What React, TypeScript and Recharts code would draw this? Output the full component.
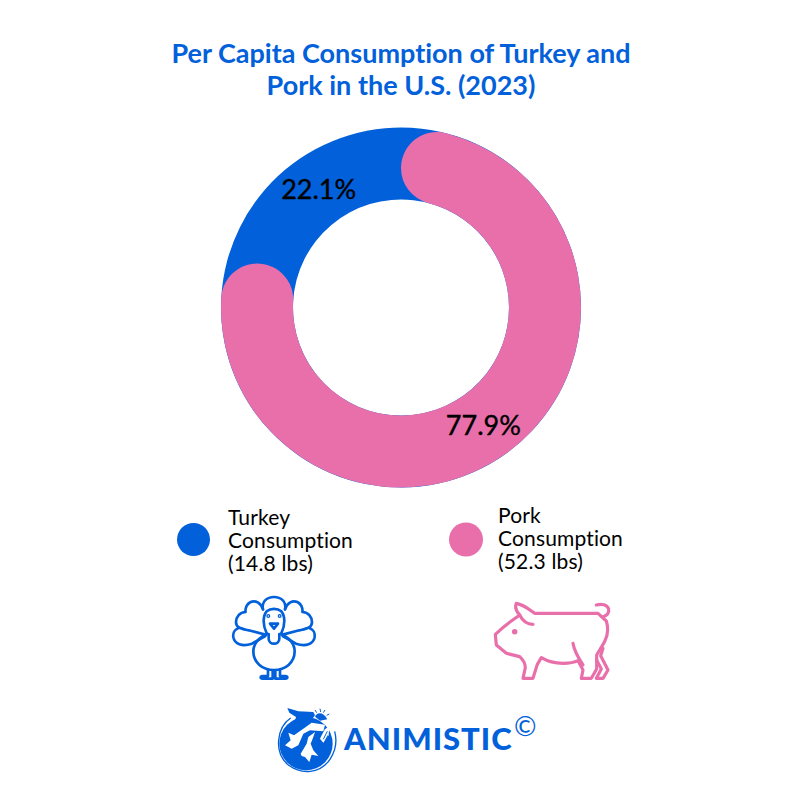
import { Cell, Pie, PieChart, Sector } from "recharts";

const names = ["Pork Consumption", "Turkey Consumption"];
const pounds = [52.3, 14.8];
const shares = [77.9, 22.1];
const colors = ["#E96FAB", "#0261DA"];

const sliceData = names.map((name, i) => ({ name, value: shares[i], lbs: pounds[i] }));
const baseData = [sliceData[1], sliceData[0]];

const BLUE = "#0261DA";
const PINK = "#E96FAB";
const CX = 401;
const CY = 307.5;
const RAD = Math.PI / 180;

// the rounded pork arc overshoots its own slice a little at both ends
function RoundedSlice(props: any) {
  return <Sector {...props} startAngle={props.startAngle + 4.9} endAngle={props.endAngle - 2.3} />;
}

function renderShare(props: any) {
  const r = (props.innerRadius + props.outerRadius) / 2;
  const x = props.cx + r * Math.cos(-props.midAngle * RAD);
  const y = props.cy + r * Math.sin(-props.midAngle * RAD);
  return (
    <text
      x={x}
      y={y + 9.5}
      textAnchor="middle"
      fill="#000"
      stroke="#000"
      strokeWidth={0.4}
      fontFamily="Lato"
      fontSize={27}
      style={{ fontVariantLigatures: "none" }}
    >
      {props.value}%
    </text>
  );
}

// icons below are traced in 3x crop coordinates
function TurkeySide() {
  return (
    <g>
      <path d="M105 52 C98 32 82 24 68 30 C58 35 52 46 52 60" />
      <path d="M52 60 C36 60 24 76 24 90 C24 108 40 110 62 115 L112 128" />
      <path d="M32 108 C20 112 14 124 16 136 C20 156 42 165 72 155 L112 132" />
    </g>
  );
}

function Turkey() {
  return (
    <g transform="translate(228 592) scale(0.3333)" fill="none" stroke={BLUE} strokeWidth={8} strokeLinecap="round" strokeLinejoin="round">
      <path d="M105 52 C100 28 118 15 138 15 C158 15 176 28 171 52" />
      <TurkeySide />
      <g transform="translate(276 0) scale(-1 1)">
        <TurkeySide />
      </g>
      <path d="M116 124 C104 100 104 72 116 58 C128 48 148 48 160 58 C172 72 172 100 160 124" />
      <path d="M118 126 C92 136 76 156 76 178 C76 212 104 234 138 234 C172 234 200 212 200 178 C200 156 184 136 158 126" />
      <path d="M122 126 L122 140 C122 150 130 155 138 155 C146 155 154 150 154 140 L154 126" />
      <path d="M126 95 L150 95 L138 110 Z" />
      <circle cx={121} cy={72} r={2} />
      <circle cx={155} cy={72} r={2} />
      <path d="M120 234 L120 252 L104 252 C96 252 96 260 104 260 L134 260 L134 236" />
      <path d="M156 234 L156 252 L172 252 C180 252 180 260 172 260 L142 260 L142 236" />
    </g>
  );
}

function Pig() {
  return (
    <g transform="translate(488 595) scale(0.3333)" fill="none" stroke={PINK} strokeWidth={9.5} strokeLinecap="round" strokeLinejoin="round">
      <path d="M22 118 L25 150 L55 175 L95 185 C106 195 112 205 112 218 L105 250 L135 250 L148 208 L160 188 C180 200 200 205 225 205 C245 205 260 202 270 197 L285 225 L280 250 L310 250 L326 222 L326 180 L350 140 C360 120 362 100 355 78 L330 55 L140 55 C120 40 105 28 85 25 C80 38 85 50 95 60 C80 72 60 82 22 118 Z" />
      <path d="M95 60 C105 80 118 88 135 88" />
      <path d="M325 30 C340 26 358 28 362 42 C364 55 355 62 345 65" />
      <path d="M255 145 C258 165 265 180 285 210" />
      <path d="M345 160 L338 182 L360 225 L345 250 L325 250 L340 222 L326 195" />
      <circle cx={80} cy={110} r={3.5} fill={PINK} />
    </g>
  );
}

function LogoMark() {
  return (
    <g transform="translate(270 702) scale(0.3333)">
      <path d="M62 48 C22 75 8 150 56 190 C95 218 150 216 180 172 C196 148 202 118 194 88" fill="none" stroke={BLUE} strokeWidth={4} />
      <circle cx={108} cy={125} r={80} fill={BLUE} />
      <path d="M52 18 L85 28 L130 30 L135 40 L120 60 L90 70 L70 75 L78 45 L58 32 Z" fill={BLUE} />
      <path d="M135 44 C140 30 160 28 172 52 L150 56 Z" fill={BLUE} />
      <path d="M150 20 L152 30 M135 24 L140 32 M165 24 L160 32 M178 36 L170 40" stroke={BLUE} strokeWidth={3} />
      <path d="M45 130 L62 115 L55 92 L72 100 L100 80 L125 62 L165 68 L160 88 L120 85 L100 95 L85 130 L65 140 Z" fill="#fff" />
      <path d="M92 155 L110 125 L115 105 L135 90 L130 105 L122 125 L130 145 L145 162 L125 158 L118 180 L105 165 L95 162 Z" fill="#fff" />
      <path d="M155 100 L165 82 L178 72 L176 100 L160 122 L150 110 Z" fill="#fff" />
      <path d="M160 112 L172 88 M165 118 L174 100" stroke={BLUE} strokeWidth={3} />
    </g>
  );
}

export default function App() {
  return (
    <div style={{ position: "absolute", left: 0, top: 0, width: 800, height: 800, background: "#fff", fontVariantLigatures: "none" }}>
      <PieChart width={800} height={800} margin={{ top: 0, right: 0, bottom: 0, left: 0 }}>
        <Pie
          data={baseData}
          dataKey="value"
          cx={CX}
          cy={CY}
          innerRadius={108}
          outerRadius={180}
          startAngle={60}
          endAngle={-300}
          stroke="none"
          isAnimationActive={false}
        >
          {baseData.map((d) => (
            <Cell key={d.name} fill={BLUE} />
          ))}
        </Pie>
        <Pie
          data={sliceData}
          dataKey="value"
          cx={CX}
          cy={CY}
          innerRadius={108}
          outerRadius={180}
          startAngle={85.1}
          endAngle={-274.9}
          cornerRadius={36}
          stroke="none"
          shape={RoundedSlice}
          label={renderShare}
          labelLine={false}
          isAnimationActive={false}
        >
          {sliceData.map((d, i) => (
            <Cell key={d.name} fill={i === 0 ? colors[0] : "none"} />
          ))}
        </Pie>
      </PieChart>
      <svg width={800} height={800} style={{ position: "absolute", left: 0, top: 0 }}>
        <text textAnchor="middle" fontFamily="Lato" fontWeight={700} fontSize={27} fill={BLUE}>
          <tspan x={401} y={63}>Per Capita Consumption of Turkey and</tspan>
          <tspan x={401} y={95}>Pork in the U.S. (2023)</tspan>
        </text>
        <circle cx={193.5} cy={539.5} r={16.5} fill={colors[1]} />
        <circle cx={466} cy={539.5} r={17} fill={colors[0]} />
        <text fontFamily="Lato" fontSize={21} letterSpacing={0.15} fill="#000">
          <tspan x={228} y={525}>Turkey</tspan>
          <tspan x={228} y={548}>Consumption</tspan>
          <tspan x={228} y={571}>(14.8 lbs)</tspan>
        </text>
        <text fontFamily="Lato" fontSize={21} letterSpacing={0.15} fill="#000">
          <tspan x={498} y={523}>Pork</tspan>
          <tspan x={498} y={546}>Consumption</tspan>
          <tspan x={498} y={569}>(52.3 lbs)</tspan>
        </text>
        <Turkey />
        <Pig />
        <LogoMark />
        <text x={344} y={750} fontFamily="Lato" fontWeight={900} fontSize={31} letterSpacing={1} fill={BLUE}>ANIMISTIC</text>
        <text x={514} y={736} fontFamily="Lato" fontSize={27} fill={BLUE}>©</text>
      </svg>
    </div>
  );
}
